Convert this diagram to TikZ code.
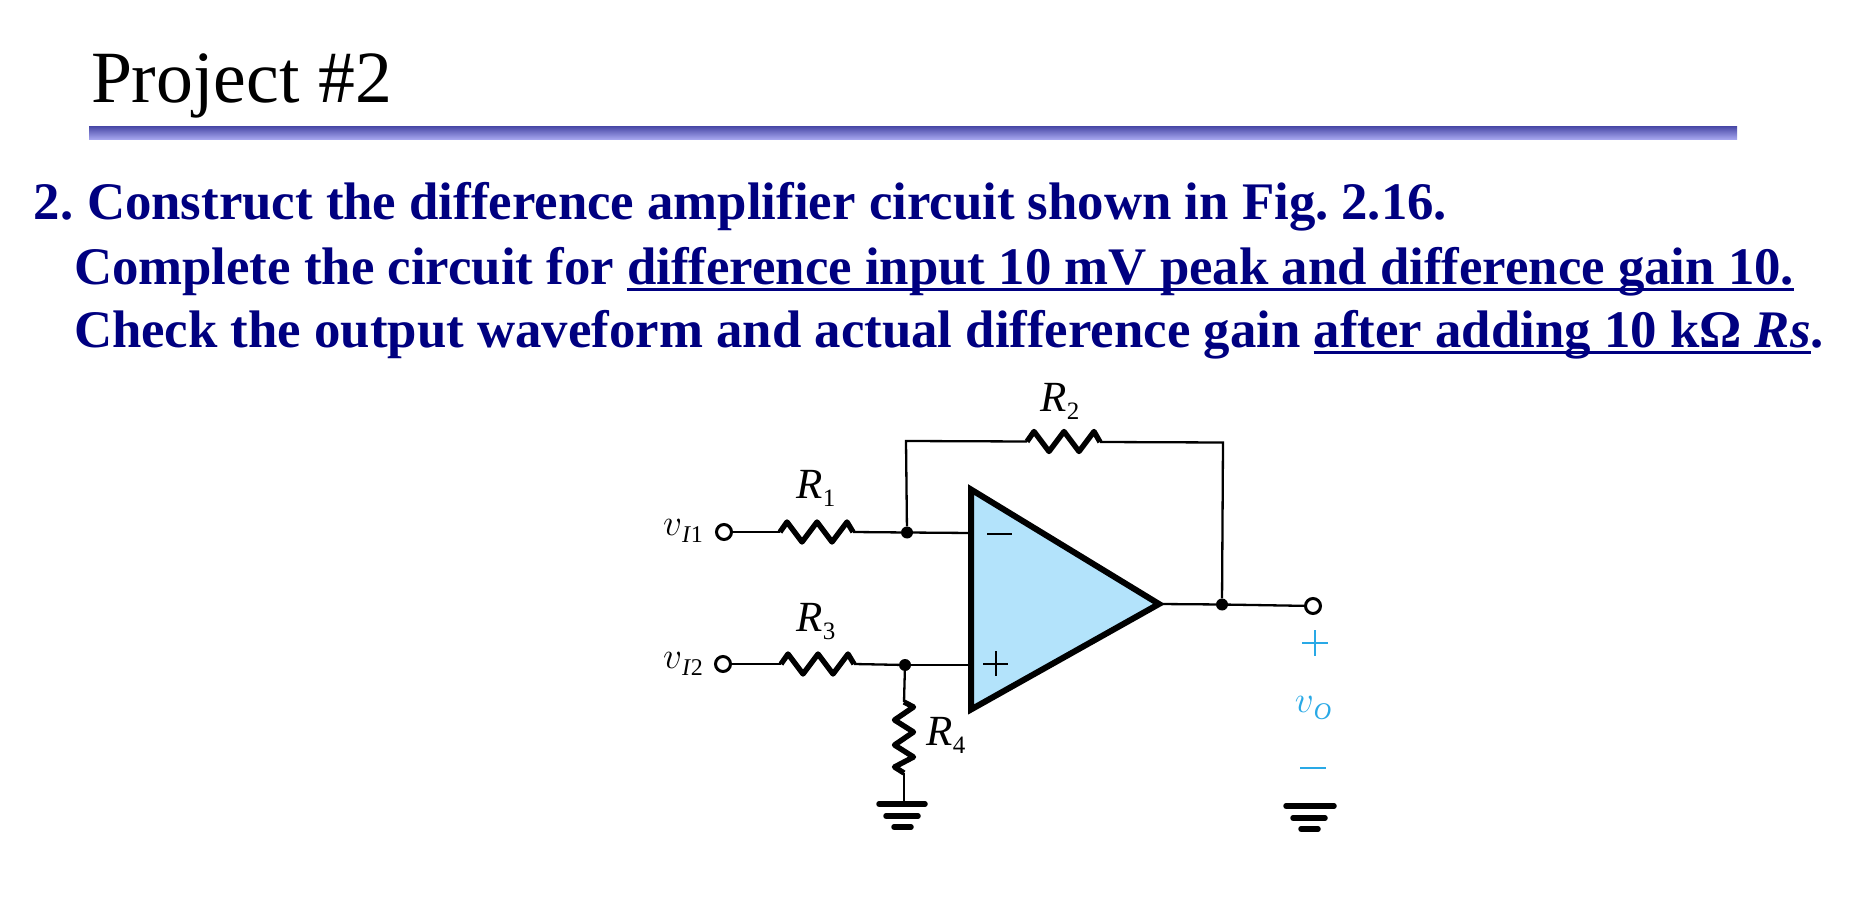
\documentclass[tikz,border=0pt]{standalone}
\usepackage{fontspec}
\setmainfont{Liberation Serif}
\newsavebox{\ulbox}
\newcommand{\ulined}[1]{\sbox{\ulbox}{#1}\rlap{\raisebox{-6.5pt}{\rule{\wd\ulbox}{3pt}}}\usebox{\ulbox}}
\definecolor{navytext}{HTML}{000080}
\definecolor{opfill}{HTML}{B3E3FB}
\definecolor{vblue}{HTML}{29A9E6}
\definecolor{bartop}{HTML}{4A4AA8}
\definecolor{barbot}{HTML}{A8A8F0}
\newcommand{\Rlab}[2]{\fontsize{43}{43}\selectfont\textit{#1}\raisebox{-8pt}{\fontsize{25}{25}\selectfont #2}}
\newcommand{\Vlab}[1]{\scalebox{1.5}{\fontsize{24.88}{24.88}\selectfont$v$}\raisebox{-7pt}{\fontsize{24}{24}\selectfont #1}}
\tikzset{
  x=1pt,y=-1pt,
  bodytext/.style={anchor=base west,inner sep=0pt,outer sep=0pt,text=navytext,font=\fontsize{52.8}{52.8}\selectfont\bfseries},
  wire/.style={draw=black,line width=2.3pt},
  reszig/.style={draw=black,line width=5.4pt,line join=round},
  terminal/.style={circle,draw=black,fill=white,line width=3pt,minimum size=15pt,inner sep=0pt},
  junction/.style={circle,fill=black,minimum size=12pt,inner sep=0pt},
  amp/.style={draw=black,fill=opfill,line width=6pt,line join=miter,miter limit=10},
  gndbar/.style={draw=black,line width=5.5pt,line cap=round},
  signbar/.style={line width=2pt},
  lab/.style={inner sep=0pt,outer sep=0pt},
}
\begin{document}
\begin{tikzpicture}
\useasboundingbox (0,0) rectangle (1856,901);
\fill[white] (0,0) rectangle (1856,901);
% heading
\node[lab,anchor=base west,font=\fontsize{73.7}{73.7}\selectfont] (title) at (91,103) {Project \#2};
\shade[top color=bartop,bottom color=barbot] (89,126.5) rectangle (1737,139.5);
\node[bodytext] (line1a) at (34,219.5) {2.};
\node[bodytext] (line1b) at (87,219.5) {Construct the difference amplifier circuit shown in Fig.\kern-4.7pt{} 2.16.};
\node[bodytext] (line2) at (74,284.5) {Complete the circuit for \ulined{difference input 10 mV peak and difference gain 10.}};
\node[bodytext] (line3) at (74,347.5) {Check the output waveform and actual difference gain \ulined{after adding 10 kΩ \textit{Rs}}.};
% op amp
\coordinate (ampTL) at (971,489.5);
\coordinate (ampBL) at (971,709.5);
\coordinate (ampO) at (1159,604);
\path[amp] (ampTL) -- (ampO) -- (ampBL) -- cycle;
\coordinate (inN) at (971,533);
\coordinate (inP) at (971,665);
% terminals and junctions
\node[terminal] (vi1) at (724,532) {};
\node[terminal] (vi2) at (723,664) {};
\node[terminal] (vo) at (1313,606) {};
\node[junction] (jn) at (907,532.5) {};
\node[junction] (jp) at (905,665) {};
\node[junction] (jo) at (1222,604.5) {};
% resistor ends
\coordinate (r1a) at (780,532); \coordinate (r1b) at (853,532);
\coordinate (r3a) at (781,664); \coordinate (r3b) at (854,664);
\coordinate (r2a) at (1027,441.5); \coordinate (r2b) at (1100,442);
\coordinate (r4a) at (904,702); \coordinate (r4b) at (904,773);
\coordinate (fbL) at (906,441); \coordinate (fbR) at (1223,442.5);
\coordinate (g1) at (904,804);
% wires
\draw[wire] (vi1) -- (r1a);
\draw[wire] (r1b) -- (jn);
\draw[wire] (jn) -- (inN);
\draw[wire] (vi2) -- (r3a);
\draw[wire] (r3b) -- (jp);
\draw[wire] (jp) -- (inP);
\draw[wire] (jn) -- (fbL) -- (r2a);
\draw[wire] (r2b) -- (fbR) -- (jo);
\draw[wire] (ampO) -- (jo);
\draw[wire] (jo) -- (vo);
\draw[wire] (jp) -- (r4a);
\draw[wire] (r4b) -- (g1);
% resistors
\draw[reszig] (r1a) -- ++(7,-10) -- ++(15,20) -- ++(15,-20) -- ++(15,20) -- ++(15,-20) -- (r1b);
\draw[reszig] (r3a) -- ++(7,-10) -- ++(15,20) -- ++(15,-20) -- ++(15,20) -- ++(15,-20) -- (r3b);
\draw[reszig] (r2a) -- ++(7,-10) -- ++(15,20) -- ++(15,-20) -- ++(15,20) -- ++(15,-20) -- (r2b);
\draw[reszig] (r4a) -- ++(9.5,5) -- ++(-19,13) -- ++(19,12) -- ++(-19,13) -- ++(19,12) -- ++(-19,10) -- (r4b);
% grounds
\draw[gndbar] (879,804) -- (925,804);
\draw[gndbar] (886,816) -- (918,816);
\draw[gndbar] (894,827) -- (911,827);
\draw[gndbar] (1286,806) -- (1334,806);
\draw[gndbar] (1293,818) -- (1325,818);
\draw[gndbar] (1301,829) -- (1318,829);
% input signs
\draw[signbar] (987,534) -- (1012,534);
\draw[signbar] (983,663.5) -- (1008,663.5);
\draw[signbar] (995.5,651) -- (995.5,676);
% output signs
\draw[signbar,vblue] (1302,643) -- (1328,643);
\draw[signbar,vblue] (1315,630) -- (1315,656);
\draw[signbar,vblue] (1300,768) -- (1326,768);
% labels
\node[lab] (lr2) at (1060,401) {\Rlab{R}{2}};
\node[lab] (lr1) at (816,488) {\Rlab{R}{1}};
\node[lab] (lr3) at (816,622) {\Rlab{R}{3}};
\node[lab] (lr4) at (946,735) {\Rlab{R}{4}};
\node[lab] (lv1) at (683,531) {\Vlab{\textit{I}1}};
\node[lab] (lv2) at (683,664) {\Vlab{\textit{I}2}};
\node[lab,text=vblue] (lvo) at (1313,708) {\Vlab{\textit{O}}};
\end{tikzpicture}
\end{document}
